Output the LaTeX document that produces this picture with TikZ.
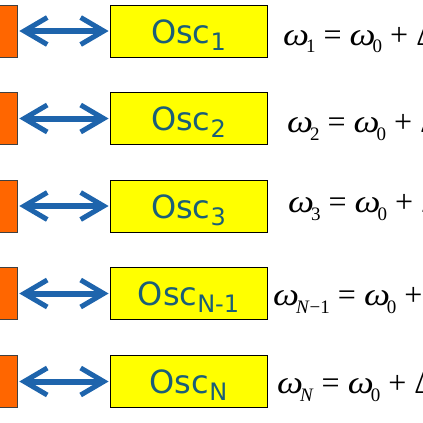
\documentclass[tikz,border=0pt]{standalone}
\usepackage{fontspec}
\setmainfont{Liberation Serif}
\newfontfamily\oscfont{DejaVu Sans}
\usetikzlibrary{arrows.meta}
\tikzset{
	portbar/.style={draw=black!75, line width=0.6pt, fill=portorange, minimum width=22pt, minimum height=52pt, inner sep=0pt},
	oscbox/.style={draw=black, line width=0.8pt, fill=oscyellow, minimum width=157pt, minimum height=52pt, inner sep=0pt},
	osclabel/.style={anchor=base, text=osctext, font=\oscfont\fontsize{32}{36}\selectfont, inner sep=0pt},
	eqlabel/.style={anchor=base west, font=\fontsize{32}{36}\selectfont, inner sep=0pt},
	barb/.tip={Straight Barb[length=23pt,width=27pt,line width=5pt]},
	link/.style={draw=linkblue, line width=6pt, barb-barb}
}
\newcommand{\oscsub}[1]{\raisebox{-7pt}{\fontsize{24}{26}\selectfont #1}}
\newcommand{\eqsub}[1]{\kern-3pt\raisebox{-8pt}{\fontsize{19}{22}\selectfont #1}}
\newcommand{\om}{\scalebox{1.15}[1]{\textit{ω}}}
\begin{document}
\begin{tikzpicture}[x=1pt,y=-1pt]
		\definecolor{portorange}{RGB}{255,102,0}
		\definecolor{oscyellow}{RGB}{255,255,0}
		\definecolor{osctext}{RGB}{26,94,120}
		\definecolor{linkblue}{RGB}{30,100,172}
		\useasboundingbox (0,0) rectangle (423,423);
		\clip (0,0) rectangle (423,423);
		% ports and oscillators
		\node[portbar] (port1) at (6,31) {};
		\node[portbar] (port2) at (6,118.5) {};
		\node[portbar] (port3) at (6,206) {};
		\node[portbar] (port4) at (6,293.5) {};
		\node[portbar] (port5) at (6,381.5) {};
		\node[oscbox] (osc1) at (188.5,31) {};
		\node[oscbox] (osc2) at (188.5,118.5) {};
		\node[oscbox] (osc3) at (188.5,206) {};
		\node[oscbox] (osc4) at (188.5,293.5) {};
		\node[oscbox] (osc5) at (188.5,381.5) {};
		\draw[link] ([xshift=2pt]port1.east) -- ([xshift=-1pt]osc1.west);
		\draw[link] ([xshift=2pt]port2.east) -- ([xshift=-1pt]osc2.west);
		\draw[link] ([xshift=2pt]port3.east) -- ([xshift=-1pt]osc3.west);
		\draw[link] ([xshift=2pt]port4.east) -- ([xshift=-1pt]osc4.west);
		\draw[link] ([xshift=2pt]port5.east) -- ([xshift=-1pt]osc5.west);
		\node[osclabel] (name1) at ([yshift=-12pt]osc1.center) {Osc\oscsub{1}};
		\node[osclabel] (name2) at ([yshift=-12pt]osc2.center) {Osc\oscsub{2}};
		\node[osclabel] (name3) at ([yshift=-12pt]osc3.center) {Osc\oscsub{3}};
		\node[osclabel] (name4) at ([yshift=-12pt]osc4.center) {Osc\oscsub{N-1}};
		\node[osclabel] (name5) at ([yshift=-12pt]osc5.center) {Osc\oscsub{N}};
		% frequencies
		\node[eqlabel] (freq1) at (283,45) {\om\eqsub{1} = \om\eqsub{0} + Δ};
		\node[eqlabel] (freq2) at (287,132) {\om\eqsub{2} = \om\eqsub{0} + Δ};
		\node[eqlabel] (freq3) at (288,212) {\om\eqsub{3} = \om\eqsub{0} + Δ};
		\node[eqlabel] (freq4) at (273,305) {\om\eqsub{\textit{N}−1} = \om\eqsub{0} + Δ};
		\node[eqlabel] (freq5) at (277,393) {\om\eqsub{\textit{N}} = \om\eqsub{0} + Δ};
	\end{tikzpicture}
\end{document}
